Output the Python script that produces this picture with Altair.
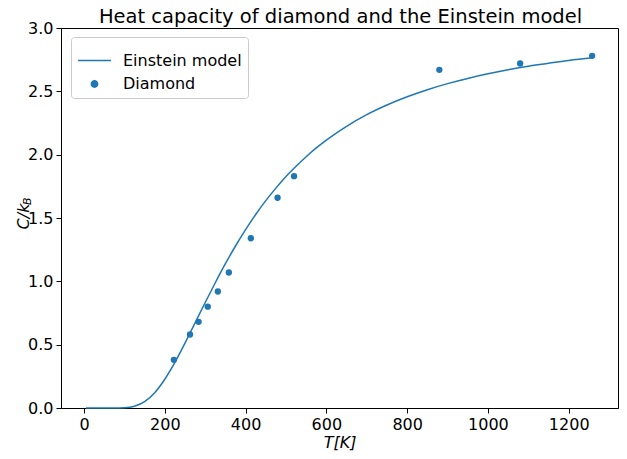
import altair as alt
import pandas as pd

# Einstein model curve
curve_T = [5, 50, 75, 100, 125, 150, 175, 200, 225, 250, 275, 300, 325, 350, 375,
           400, 425, 450, 475, 500, 525, 550, 575, 600, 650, 700, 750, 800, 850, 900,
           950, 1000, 1050, 1100, 1150, 1200, 1260]
curve_C = [0.0, 0.0, 0.0, 0.002, 0.014, 0.050, 0.121, 0.227, 0.360, 0.512, 0.672,
           0.833, 0.989, 1.139, 1.279, 1.408, 1.528, 1.637, 1.736, 1.828, 1.909,
           1.984, 2.053, 2.115, 2.224, 2.316, 2.392, 2.457, 2.513, 2.561, 2.602,
           2.638, 2.670, 2.698, 2.721, 2.744, 2.765]

# Diamond measurements
diamond_T = [222.4, 262.4, 283.7, 306.4, 331.3, 358.5, 413.0, 479.2, 520.0, 879.7, 1079.7, 1258.0]
diamond_C = [0.38, 0.58, 0.68, 0.80, 0.92, 1.07, 1.34, 1.66, 1.83, 2.67, 2.72, 2.78]

series_names = ["Einstein model", "Diamond"]
x_ticks = [0, 200, 400, 600, 800, 1000, 1200]
y_ticks = [0.0, 0.5, 1.0, 1.5, 2.0, 2.5, 3.0]
title_text = ["Heat capacity of diamond and the Einstein model"]

BLUE = "#1f77b4"
FONT = "DejaVu Sans"

curve_df = pd.DataFrame({"T": curve_T, "C": curve_C, "series": series_names[0]})
diamond_df = pd.DataFrame({"T": diamond_T, "C": diamond_C, "series": series_names[1]})

xscale = alt.Scale(domain=[-57, 1322], nice=False, zero=False)
yscale = alt.Scale(domain=[0, 3], nice=False)

xaxis = alt.Axis(values=x_ticks, format="d", title="T[K]", titleFontStyle="italic", grid=False,
                 labelFontSize=16, titleFontSize=16, tickSize=5, labelPadding=3,
                 titleY=39, titleBaseline="alphabetic")
yaxis = alt.Axis(values=y_ticks, format=".1f", title="C/k", titleFontStyle="italic",
                 grid=False, labelFontSize=16, titleFontSize=16, tickSize=5,
                 labelPadding=3, titleAngle=270, titleX=-38, titleY=188,
                 titleAlign="center", titleBaseline="middle")

color = alt.Color("series:O", scale=alt.Scale(domain=series_names, range=[BLUE, BLUE]),
                  legend=alt.Legend(title=None, orient="none", legendX=10, legendY=9,
                                    labelFontSize=16, labelFont=FONT, labelColor="black",
                                    padding=6, rowPadding=7, labelOffset=11,
                                    fillColor="white", strokeColor="#cccccc",
                                    cornerRadius=3, symbolStrokeColor=BLUE,
                                    symbolStrokeWidth=1.5, symbolFillColor=BLUE))

line = alt.Chart(curve_df).mark_line(strokeWidth=1.5, color=BLUE, interpolate="monotone").encode(
    x=alt.X("T:Q", scale=xscale, axis=xaxis),
    y=alt.Y("C:Q", scale=yscale, axis=yaxis),
    color=color,
)

points = alt.Chart(diamond_df).mark_point(filled=True, opacity=1, color=BLUE).encode(
    x=alt.X("T:Q", scale=xscale),
    y=alt.Y("C:Q", scale=yscale),
    color=color,
    shape=alt.Shape("series:O", scale=alt.Scale(domain=series_names, range=["stroke", "circle"]),
                    legend=alt.Legend(title=None)),
    size=alt.Size("series:O", scale=alt.Scale(domain=series_names, range=[1089, 40]),
                  legend=alt.Legend(title=None)),
)

sub_df = pd.DataFrame({"t": ["B"]})
subscript = alt.Chart(sub_df).mark_text(angle=270, align="left", baseline="middle",
                                        fontSize=11, fontStyle="italic", font=FONT,
                                        color="black").encode(
    text="t:N", x=alt.value(-33), y=alt.value(177))

title_df = pd.DataFrame({"t": title_text})
title = alt.Chart(title_df).mark_text(align="center", baseline="alphabetic", fontSize=19.5,
                                      font=FONT, color="black").encode(
    text="t:N", x=alt.value(279.5), y=alt.value(-5.2))

chart = alt.layer(line, points, subscript, title).properties(
    width=557, height=380,
    autosize=alt.AutoSizeParams(type="none"),
    padding={"left": 53, "top": 20, "right": 1, "bottom": 43},
).configure_view(stroke="black", strokeWidth=1).configure_axis(
    labelFont=FONT, titleFont=FONT, labelColor="black", titleColor="black",
    titleFontWeight="normal", domainColor="black", tickColor="black",
    domainWidth=1, tickWidth=1,
)

chart.save("out.html", embed_options={"renderer": "svg", "actions": False})
